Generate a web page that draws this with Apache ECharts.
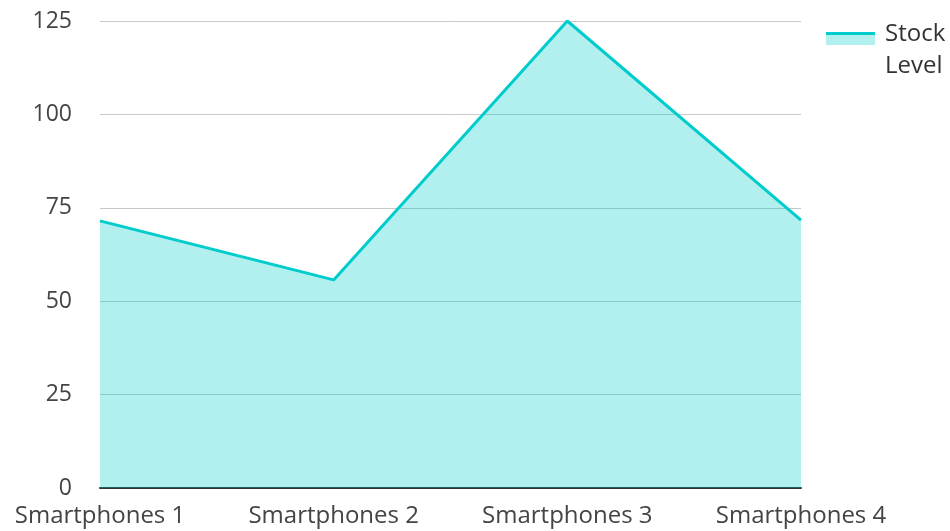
<!DOCTYPE html>
<html>
<head>
<meta charset="utf-8">
<script src="https://cdn.jsdelivr.net/npm/echarts@6/dist/echarts.min.js"></script>
<style>
  html, body { margin: 0; padding: 0; background: #fff; }
  #chart { width: 950px; height: 531px; }
</style>
</head>
<body>
<div id="chart"></div>
<script>
const categories = ['Smartphones 1', 'Smartphones 2', 'Smartphones 3', 'Smartphones 4'];
const stockLevel = [71.5, 55.7, 125, 71.7];
const seriesName = 'Stock Level';

const lineColor = '#00cccc';
const font = '"Open Sans", sans-serif';

const chart = echarts.init(document.getElementById('chart'));
const option = {
  animation: false,
  grid: { left: 100, right: 149, top: 21, bottom: 43, containLabel: false },
  xAxis: {
    type: 'category',
    data: categories,
    boundaryGap: false,
    axisLine: { show: true, lineStyle: { color: '#333', width: 2 } },
    axisTick: { show: false },
    axisLabel: { color: '#444', fontSize: 24, fontFamily: font, margin: 16 },
    splitLine: { show: false }
  },
  yAxis: {
    type: 'value',
    min: 0,
    max: 125,
    interval: 25,
    axisLine: { show: false },
    axisTick: { show: false },
    axisLabel: { color: '#444', fontSize: 23, fontFamily: font, margin: 28 },
    splitLine: { lineStyle: { color: '#c8c8c8', width: 1 } }
  },
  series: [{
    name: seriesName,
    type: 'line',
    data: stockLevel,
    showSymbol: false,
    symbol: 'none',
    lineStyle: { color: lineColor, width: 3 },
    itemStyle: { color: lineColor },
    areaStyle: { color: lineColor, opacity: 0.3 }
  }],
  graphic: [
    { type: 'rect', shape: { x: 826, y: 32, width: 49, height: 13 }, style: { fill: lineColor, opacity: 0.3 } },
    { type: 'line', shape: { x1: 826, y1: 33.5, x2: 875, y2: 33.5 }, style: { stroke: lineColor, lineWidth: 3 } },
    { type: 'text', x: 885, y: 34, style: { text: 'Stock', fill: '#333', font: '24px "Open Sans", sans-serif', verticalAlign: 'middle' } },
    { type: 'text', x: 885, y: 66, style: { text: 'Level', fill: '#333', font: '24px "Open Sans", sans-serif', verticalAlign: 'middle' } }
  ]
};
chart.setOption(option);
</script>
</body>
</html>
